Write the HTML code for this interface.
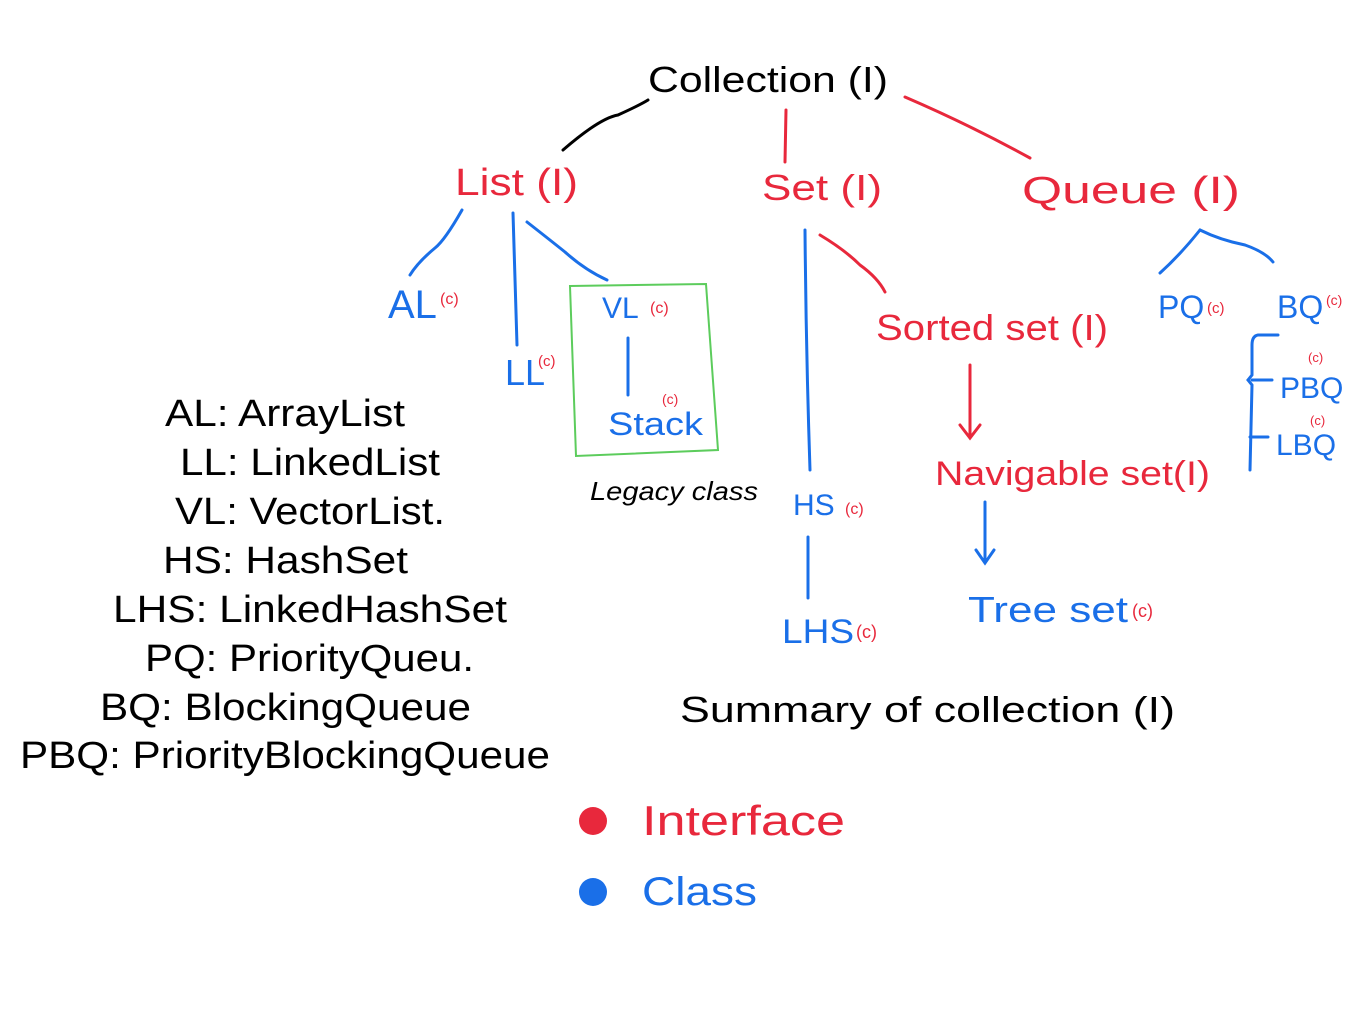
<!DOCTYPE html>
<html><head><meta charset="utf-8"><style>
html,body{margin:0;padding:0;background:#fff;}
svg{display:block;}
.h{font-family:"Liberation Sans",sans-serif;}
</style></head><body>
<svg width="1358" height="1027" viewBox="0 0 1358 1027" xmlns="http://www.w3.org/2000/svg">
<rect width="1358" height="1027" fill="#fff"/>
<g fill="none" stroke-width="3" stroke-linecap="round">
<path d="M563 150 Q600 118 618 115 Q640 105 648 100" stroke="#000"/>
<path d="M786 110 L785 162" stroke="#e8283c"/>
<path d="M905 97 Q970 125 1030 158" stroke="#e8283c"/>
<path d="M462 210 Q445 240 435 248 Q418 262 410 275" stroke="#1a6fe8"/>
<path d="M513 213 Q515 280 517 345" stroke="#1a6fe8"/>
<path d="M527 222 Q550 240 565 252 Q585 270 607 280" stroke="#1a6fe8"/>
<path d="M805 230 Q806 350 810 470" stroke="#1a6fe8"/>
<path d="M808 537 L808 598" stroke="#1a6fe8"/>
<path d="M820 235 Q845 250 860 265 Q878 278 885 292" stroke="#e8283c"/>
<path d="M1200 230 Q1180 255 1160 273" stroke="#1a6fe8"/>
<path d="M1200 230 Q1220 240 1245 245 Q1265 252 1273 262" stroke="#1a6fe8"/>
<path d="M570 286 L706 284 L718 450 L576 456 Z" stroke="#5ccc5c" stroke-width="2"/>
<path d="M628 338 L628 395" stroke="#1a6fe8"/>
<path d="M970 365 L970 438 M960 425 L970 438 L980 425" stroke="#e8283c"/>
<path d="M985 502 L985 563 M976 550 L985 563 L994 550" stroke="#1a6fe8"/>
<path d="M1278 335 L1258 335 Q1252 336 1252 345 L1252 375 L1248 380 L1252 385 L1250 470" stroke="#1a6fe8"/>
<path d="M1250 437 L1268 437 M1252 380 L1272 380" stroke="#1a6fe8"/>
</g>
<g class="h" lengthAdjust="spacingAndGlyphs">
<text x="648" y="92" font-size="36" fill="#000" textLength="240" lengthAdjust="spacingAndGlyphs">Collection (I)</text>
<text x="455" y="195" font-size="38" fill="#e8283c" textLength="123" lengthAdjust="spacingAndGlyphs">List (I)</text>
<text x="762" y="200" font-size="36" fill="#e8283c" textLength="120" lengthAdjust="spacingAndGlyphs">Set (I)</text>
<text x="1022" y="203" font-size="38" fill="#e8283c" textLength="218" lengthAdjust="spacingAndGlyphs">Queue (I)</text>
<text x="388" y="318" font-size="40" fill="#1a6fe8">AL</text>
<text x="440" y="304" font-size="16" fill="#e8283c">(c)</text>
<text x="505" y="385" font-size="36" fill="#1a6fe8">LL</text>
<text x="538" y="366" font-size="15" fill="#e8283c">(c)</text>
<text x="602" y="318" font-size="30" fill="#1a6fe8">VL</text>
<text x="650" y="313" font-size="16" fill="#e8283c">(c)</text>
<text x="608" y="435" font-size="32" fill="#1a6fe8" textLength="95" lengthAdjust="spacingAndGlyphs">Stack</text>
<text x="662" y="404" font-size="14" fill="#e8283c">(c)</text>
<text x="590" y="500" font-size="26" fill="#000" font-style="italic" textLength="168" lengthAdjust="spacingAndGlyphs">Legacy class</text>
<text x="793" y="515" font-size="30" fill="#1a6fe8">HS</text>
<text x="845" y="514" font-size="16" fill="#e8283c">(c)</text>
<text x="782" y="643" font-size="34" fill="#1a6fe8" textLength="72" lengthAdjust="spacingAndGlyphs">LHS</text>
<text x="856" y="638" font-size="18" fill="#e8283c">(c)</text>
<text x="876" y="340" font-size="36" fill="#e8283c" textLength="232" lengthAdjust="spacingAndGlyphs">Sorted set (I)</text>
<text x="935" y="485" font-size="34" fill="#e8283c" textLength="275" lengthAdjust="spacingAndGlyphs">Navigable set(I)</text>
<text x="968" y="622" font-size="36" fill="#1a6fe8" textLength="160" lengthAdjust="spacingAndGlyphs">Tree set</text>
<text x="1132" y="617" font-size="18" fill="#e8283c">(c)</text>
<text x="1158" y="318" font-size="32" fill="#1a6fe8">PQ</text>
<text x="1207" y="313" font-size="15" fill="#e8283c">(c)</text>
<text x="1277" y="318" font-size="32" fill="#1a6fe8">BQ</text>
<text x="1326" y="305" font-size="14" fill="#e8283c">(c)</text>
<text x="1280" y="398" font-size="30" fill="#1a6fe8">PBQ</text>
<text x="1308" y="362" font-size="13" fill="#e8283c">(c)</text>
<text x="1276" y="455" font-size="30" fill="#1a6fe8">LBQ</text>
<text x="1310" y="425" font-size="13" fill="#e8283c">(c)</text>
<text x="680" y="722" font-size="36" fill="#000" textLength="495" lengthAdjust="spacingAndGlyphs">Summary of collection (I)</text>
<text x="642" y="835" font-size="42" fill="#e8283c" textLength="203" lengthAdjust="spacingAndGlyphs">Interface</text>
<text x="642" y="905" font-size="40" fill="#1a6fe8" textLength="115" lengthAdjust="spacingAndGlyphs">Class</text>
</g>
<circle cx="593" cy="821" r="14" fill="#e8283c"/>
<circle cx="593" cy="892" r="14" fill="#1a6fe8"/>
<g class="h" font-size="38" fill="#000">
<text x="165" y="426" textLength="240" lengthAdjust="spacingAndGlyphs">AL: ArrayList</text>
<text x="180" y="475" textLength="260" lengthAdjust="spacingAndGlyphs">LL: LinkedList</text>
<text x="175" y="524" textLength="270" lengthAdjust="spacingAndGlyphs">VL: VectorList.</text>
<text x="163" y="573" textLength="245" lengthAdjust="spacingAndGlyphs">HS: HashSet</text>
<text x="113" y="622" textLength="394" lengthAdjust="spacingAndGlyphs">LHS: LinkedHashSet</text>
<text x="145" y="671" textLength="329" lengthAdjust="spacingAndGlyphs">PQ: PriorityQueu.</text>
<text x="100" y="720" textLength="371" lengthAdjust="spacingAndGlyphs">BQ: BlockingQueue</text>
<text x="20" y="768" textLength="530" lengthAdjust="spacingAndGlyphs">PBQ: PriorityBlockingQueue</text>
</g>
</svg>
</body></html>
